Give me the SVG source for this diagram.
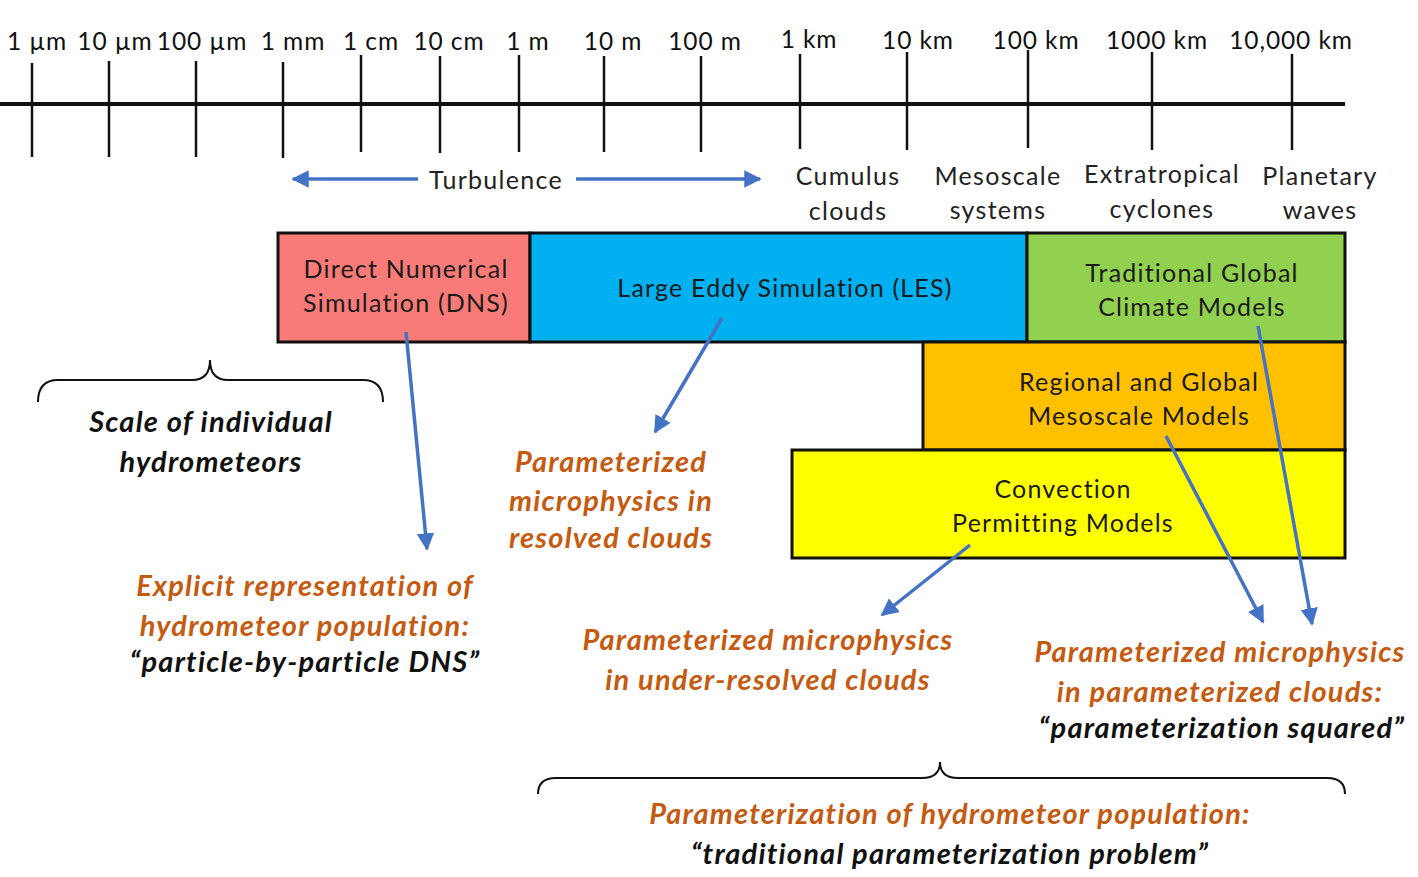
<svg xmlns="http://www.w3.org/2000/svg" width="1418" height="877" viewBox="0 0 1418 877">
<defs>
<marker id="ah" viewBox="0 0 10 10" refX="9" refY="5" markerWidth="5" markerHeight="5" orient="auto" markerUnits="strokeWidth">
<path d="M0,0 L10,5 L0,10 z" fill="#4472C4"/>
</marker>
</defs>
<style>
.ax{font-family:Lato,"Liberation Sans",sans-serif;font-size:24.5px;letter-spacing:0.9px;fill:#111;text-anchor:middle}
.tick{stroke:#111;stroke-width:2.5}
.cat{font-family:Lato,"Liberation Sans",sans-serif;font-size:25px;letter-spacing:1.3px;fill:#222;text-anchor:middle}
.box{stroke:#111;stroke-width:3}
.bt{font-family:Lato,"Liberation Sans",sans-serif;font-size:25px;letter-spacing:1.2px;fill:#1a1a1a;text-anchor:middle}
.conn{stroke:#4472C4;stroke-width:3.5;fill:none;marker-end:url(#ah)}
.or{font-family:Lato,"Liberation Sans",sans-serif;font-size:29px;letter-spacing:1.2px;font-weight:bold;font-style:italic;fill:#C55A11;text-anchor:middle}
.bk{font-family:Lato,"Liberation Sans",sans-serif;font-size:29px;letter-spacing:1.2px;font-weight:bold;font-style:italic;fill:#111;text-anchor:middle}
.brace{stroke:#111;stroke-width:2;fill:none}
</style>
<rect width="1418" height="877" fill="#fff"/>
<g id="axis">
<line x1="0" y1="104" x2="1345" y2="104" stroke="#111" stroke-width="4"/>
<line class="tick" x1="32" y1="63" x2="32" y2="157"/>
<line class="tick" x1="109" y1="61" x2="109" y2="157"/>
<line class="tick" x1="196" y1="61" x2="196" y2="157"/>
<line class="tick" x1="283" y1="62" x2="283" y2="158"/>
<line class="tick" x1="361" y1="55" x2="361" y2="152"/>
<line class="tick" x1="440" y1="56" x2="440" y2="153"/>
<line class="tick" x1="519" y1="55" x2="519" y2="152"/>
<line class="tick" x1="604" y1="56" x2="604" y2="152"/>
<line class="tick" x1="701" y1="56" x2="701" y2="152"/>
<line class="tick" x1="800" y1="54" x2="800" y2="149"/>
<line class="tick" x1="907" y1="52" x2="907" y2="150"/>
<line class="tick" x1="1028" y1="50" x2="1028" y2="148"/>
<line class="tick" x1="1152" y1="52" x2="1152" y2="150"/>
<line class="tick" x1="1292" y1="54" x2="1292" y2="150"/>
<text class="ax" x="37" y="50">1 µm</text>
<text class="ax" x="115" y="50">10 µm</text>
<text class="ax" x="202" y="50">100 µm</text>
<text class="ax" x="293" y="50">1 mm</text>
<text class="ax" x="371" y="50">1 cm</text>
<text class="ax" x="449" y="50">10 cm</text>
<text class="ax" x="528" y="50">1 m</text>
<text class="ax" x="613" y="50">10 m</text>
<text class="ax" x="705" y="50">100 m</text>
<text class="ax" x="809" y="48">1 km</text>
<text class="ax" x="918" y="49">10 km</text>
<text class="ax" x="1036" y="49">100 km</text>
<text class="ax" x="1157" y="49">1000 km</text>
<text class="ax" x="1291" y="49">10,000 km</text>
</g>
<g id="turbulence">
<text class="cat" x="496" y="189">Turbulence</text>
</g>
<g id="cumulus"><text class="cat" x="848" y="185">Cumulus</text><text class="cat" x="848" y="220">clouds</text></g>
<g id="mesoscale"><text class="cat" x="998" y="185">Mesoscale</text><text class="cat" x="998" y="219">systems</text></g>
<g id="extratropical"><text class="cat" x="1162" y="183">Extratropical</text><text class="cat" x="1162" y="218">cyclones</text></g>
<g id="planetary"><text class="cat" x="1320" y="185">Planetary</text><text class="cat" x="1320" y="219">waves</text></g>
<g id="dns"><rect class="box" x="278" y="233" width="252" height="109" fill="#F97B77"/><text class="bt" x="406" y="278">Direct Numerical</text><text class="bt" x="406" y="312">Simulation (DNS)</text></g>
<g id="les"><rect class="box" x="530" y="233" width="497" height="109" fill="#00B0F0"/><text class="bt" x="785" y="297">Large Eddy Simulation (LES)</text></g>
<g id="tgcm"><rect class="box" x="1027" y="233" width="318" height="109" fill="#92D050"/><text class="bt" x="1192" y="282">Traditional Global</text><text class="bt" x="1192" y="316">Climate Models</text></g>
<g id="regional"><rect class="box" x="923" y="342" width="422" height="108" fill="#FFC000"/><text class="bt" x="1139" y="391">Regional and Global</text><text class="bt" x="1139" y="425">Mesoscale Models</text></g>
<g id="cpm"><rect class="box" x="792" y="450" width="553" height="108" fill="#FFFF00"/><text class="bt" x="1063" y="498">Convection</text><text class="bt" x="1063" y="532">Permitting Models</text></g>
<g id="hydrometeors">
<path class="brace" d="M38,402 Q38,380 58,380 L192,380 Q210,380 210,360 Q210,380 228,380 L363,380 Q383,380 383,402"/>
<text class="bk" x="211" y="432">Scale of individual</text>
<text class="bk" x="211" y="472">hydrometeors</text>
</g>
<g id="resolved"><text class="or" x="611" y="472">Parameterized</text><text class="or" x="611" y="511">microphysics in</text><text class="or" x="611" y="548">resolved clouds</text></g>
<g id="explicit"><text class="or" x="305" y="596">Explicit representation of</text><text class="or" x="305" y="636">hydrometeor population:</text><text class="bk" x="305" y="672">“particle-by-particle DNS”</text></g>
<g id="underresolved"><text class="or" x="768" y="650">Parameterized microphysics</text><text class="or" x="768" y="690">in under-resolved clouds</text></g>
<g id="squared"><text class="or" x="1220" y="662">Parameterized microphysics</text><text class="or" x="1220" y="702">in parameterized clouds:</text><text class="bk" x="1222" y="738">“parameterization squared”</text></g>
<g id="traditional">
<path class="brace" d="M538,794 Q538,778 556,778 L922,778 Q940,778 940,762 Q940,778 958,778 L1327,778 Q1345,778 1345,794"/>
<text class="or" x="950" y="824">Parameterization of hydrometeor population:</text>
<text class="bk" x="950" y="864">“traditional parameterization problem”</text>
</g>
<g id="connectors">
<line class="conn" x1="418" y1="179" x2="293" y2="179"/>
<line class="conn" x1="576" y1="179" x2="760" y2="179"/>
<line class="conn" x1="406" y1="332" x2="427" y2="549"/>
<line class="conn" x1="722" y1="318" x2="655" y2="432"/>
<line class="conn" x1="970" y1="545" x2="882" y2="615"/>
<line class="conn" x1="1166" y1="436" x2="1263" y2="622"/>
<line class="conn" x1="1258" y1="326" x2="1312" y2="624"/>
</g>
</svg>
